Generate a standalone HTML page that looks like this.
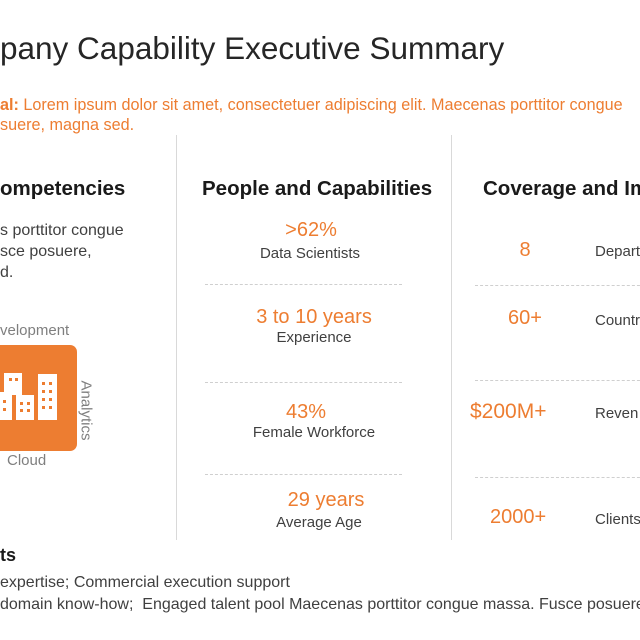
<!DOCTYPE html>
<html><head><style>
body{margin:0;width:640px;height:640px;overflow:hidden;background:#fff;font-family:"Liberation Sans",sans-serif;position:relative;color:#404040}
div{position:absolute;white-space:nowrap}
.o{color:#ED7D31}
.h{font-weight:bold;font-size:20.5px;color:#1a1a1a}
.big{font-size:20px;color:#ED7D31;text-align:center}
.sm{font-size:15px;color:#404040;text-align:center}
.vl{width:1px;background:#d9d9d9;top:135px;height:405px}
.dl{height:0;border-top:1px dashed #cfcfcf}
</style></head><body>
<div style="left:0;top:30px;font-size:31.5px;color:#262626">pany Capability Executive Summary</div>
<div class="o" style="left:0;top:96px;font-size:16.2px"><b>al:</b> Lorem ipsum dolor sit amet, consectetuer adipiscing elit. Maecenas porttitor congue</div>
<div class="o" style="left:0;top:116px;font-size:16.2px">suere, magna sed.</div>
<div class="vl" style="left:176px"></div>
<div class="vl" style="left:451px"></div>
<div class="h" style="left:0;top:177px">ompetencies</div>
<div style="left:0;top:220px;font-size:16px;line-height:21px">s porttitor congue<br>sce posuere,<br>d.</div>
<div style="left:0;top:322px;font-size:15px;color:#7f7f7f">velopment</div>
<div style="left:-12px;top:345px;width:89px;height:106px;background:#ED7D31;border-radius:7px"></div>
<svg style="position:absolute;left:0;top:370px" width="60" height="52">
<g fill="#fff">
<rect x="0" y="22" width="12" height="28"/><rect x="4" y="3" width="18" height="22"/><rect x="16" y="25" width="18" height="25"/><rect x="38" y="4" width="19" height="46"/>
</g>
<g fill="#ED7D31"><rect x="9" y="8" width="3" height="3"/><rect x="15" y="8" width="3" height="3"/><rect x="20" y="32" width="3" height="3"/><rect x="27" y="32" width="3" height="3"/><rect x="20" y="39" width="3" height="3"/><rect x="27" y="39" width="3" height="3"/><rect x="42" y="12" width="3" height="3"/><rect x="49" y="12" width="3" height="3"/><rect x="42" y="20" width="3" height="3"/><rect x="49" y="20" width="3" height="3"/><rect x="42" y="28" width="3" height="3"/><rect x="49" y="28" width="3" height="3"/><rect x="42" y="36" width="3" height="3"/><rect x="49" y="36" width="3" height="3"/><rect x="3" y="30" width="3" height="3"/><rect x="3" y="38" width="3" height="3"/></g>
</svg>
<div style="left:56px;top:402px;font-size:15px;color:#7f7f7f;transform:rotate(90deg);transform-origin:center">Analytics</div>
<div style="left:7px;top:452px;font-size:15px;color:#7f7f7f">Cloud</div>
<div class="h" style="left:202px;top:177px">People and Capabilities</div>
<div class="big" style="left:200px;width:222px;top:219px">&gt;62%</div>
<div class="sm" style="left:200px;width:220px;top:245px">Data Scientists</div>
<div class="dl" style="left:205px;width:197px;top:284px"></div>
<div class="big" style="left:200px;width:228px;top:306px">3 to 10 years</div>
<div class="sm" style="left:200px;width:228px;top:329px">Experience</div>
<div class="dl" style="left:205px;width:197px;top:382px"></div>
<div class="big" style="left:200px;width:212px;top:401px">43%</div>
<div class="sm" style="left:200px;width:228px;top:424px">Female Workforce</div>
<div class="dl" style="left:205px;width:197px;top:474px"></div>
<div class="big" style="left:200px;width:252px;top:489px">29 years</div>
<div class="sm" style="left:200px;width:238px;top:514px">Average Age</div>
<div class="h" style="left:483px;top:177px">Coverage and Im</div>
<div class="big" style="left:495px;width:60px;top:239px">8</div>
<div class="sm" style="left:595px;top:243px;text-align:left">Depart</div>
<div class="dl" style="left:475px;width:170px;top:285px"></div>
<div class="big" style="left:495px;width:60px;top:307px">60+</div>
<div class="sm" style="left:595px;top:312px;text-align:left">Countr</div>
<div class="dl" style="left:475px;width:170px;top:380px"></div>
<div class="big" style="left:470px;top:400px;text-align:left;font-size:21px">$200M+</div>
<div class="sm" style="left:595px;top:405px;text-align:left">Reven</div>
<div class="dl" style="left:475px;width:170px;top:477px"></div>
<div class="big" style="left:490px;top:506px;text-align:left">2000+</div>
<div class="sm" style="left:595px;top:511px;text-align:left">Clients</div>
<div style="left:0;top:545px;font-size:18px;font-weight:bold;color:#1a1a1a">ts</div>
<div style="left:0;top:574px;font-size:16px">expertise; Commercial execution support</div>
<div style="left:0;top:596px;font-size:16px">domain know-how;&nbsp; Engaged talent pool Maecenas porttitor congue massa. Fusce posuere</div>
</body></html>
